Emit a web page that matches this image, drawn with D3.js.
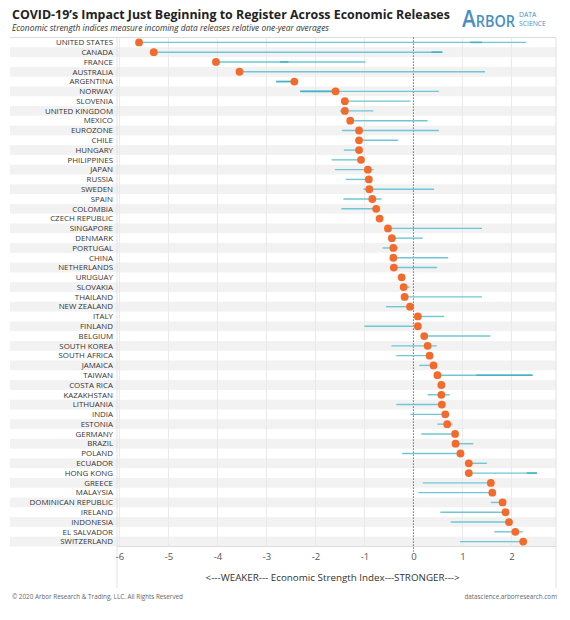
<!DOCTYPE html>
<html>
<head>
<meta charset="utf-8">
<script src="https://cdn.jsdelivr.net/npm/d3@7"></script>
<style>
  body { margin: 0; background: #fff; }
  svg { display: block; }
</style>
</head>
<body>
<svg id="chart" width="570" height="620"></svg>
<script>
const countries = ["UNITED STATES","CANADA","FRANCE","AUSTRALIA","ARGENTINA","NORWAY","SLOVENIA","UNITED KINGDOM","MEXICO","EUROZONE","CHILE","HUNGARY","PHILIPPINES","JAPAN","RUSSIA","SWEDEN","SPAIN","COLOMBIA","CZECH REPUBLIC","SINGAPORE","DENMARK","PORTUGAL","CHINA","NETHERLANDS","URUGUAY","SLOVAKIA","THAILAND","NEW ZEALAND","ITALY","FINLAND","BELGIUM","SOUTH KOREA","SOUTH AFRICA","JAMAICA","TAIWAN","COSTA RICA","KAZAKHSTAN","LITHUANIA","INDIA","ESTONIA","GERMANY","BRAZIL","POLAND","ECUADOR","HONG KONG","GREECE","MALAYSIA","DOMINICAN REPUBLIC","IRELAND","INDONESIA","EL SALVADOR","SWITZERLAND"];

// current economic strength index (dot)
const current = [-5.60,-5.30,-4.03,-3.55,-2.43,-1.59,-1.40,-1.40,-1.29,-1.11,-1.11,-1.11,-1.07,-0.93,-0.91,-0.90,-0.84,-0.76,-0.69,-0.52,-0.44,-0.41,-0.41,-0.40,-0.24,-0.20,-0.18,-0.07,0.09,0.09,0.22,0.29,0.33,0.41,0.49,0.57,0.57,0.58,0.65,0.69,0.85,0.86,0.96,1.13,1.13,1.58,1.61,1.82,1.88,1.95,2.08,2.24];

// range of recent readings (line low / high)
const rangeLow  = [-5.60,-5.30,-4.03,-3.55,-2.80,-2.31,-1.40,-1.50,-1.29,-1.46,-1.11,-1.42,-1.67,-1.60,-1.38,-1.02,-1.43,-1.47,-0.69,-0.52,-0.44,-0.63,-0.41,-0.40,-0.24,-0.20,-0.18,-0.56,0.09,-1.00,0.22,-0.45,-0.35,0.12,0.49,0.57,0.29,-0.35,-0.06,0.49,0.16,0.86,-0.23,1.13,1.13,0.19,0.10,1.58,0.55,0.76,1.65,0.95];
const rangeHigh = [2.30,0.59,-0.98,1.46,-2.43,0.52,-0.06,-0.82,0.29,0.52,-0.31,-1.11,-1.07,-0.81,-0.91,0.42,-0.65,-0.76,-0.69,1.40,0.19,-0.31,0.71,0.48,-0.24,-0.08,1.40,-0.07,0.63,0.09,1.57,0.48,0.33,0.41,2.43,0.57,0.74,0.58,0.65,0.80,0.85,1.22,0.96,1.50,2.52,1.58,1.61,1.82,1.88,1.95,2.23,2.24];

// darker overlapping segments (null where none is visible)
const darkLow  = [1.16,0.37,-2.72,null,-2.80,-2.31,null,null,null,null,null,null,null,null,null,null,null,null,null,null,null,null,null,null,null,null,null,null,null,null,null,null,null,null,1.28,null,null,null,null,null,null,null,null,null,2.31,null,null,null,null,null,null,null];
const darkHigh = [1.40,0.59,-2.55,null,-2.43,-1.59,null,null,null,null,null,null,null,null,null,null,null,null,null,null,null,null,null,null,null,null,null,null,null,null,null,null,null,null,2.43,null,null,null,null,null,null,null,null,null,2.52,null,null,null,null,null,null,null];

const tickValues = [-6,-5,-4,-3,-2,-1,0,1,2];

const rows = countries.map((c, i) => ({
  name: c, value: current[i], lo: rangeLow[i], hi: rangeHigh[i],
  dlo: darkLow[i], dhi: darkHigh[i], i
}));

const svg = d3.select("#chart");
const plotLeft = 117, plotRight = 556, plotTop = 37.5, plotBottom = 546.5;

const x = d3.scaleLinear().domain([-6.05, 2.91]).range([plotLeft, plotRight]);
const y = d3.scaleBand().domain(countries).range([plotTop, plotBottom]).padding(0);

// title
svg.append("text").attr("x", 12).attr("y", 19)
  .style("font-family", "'Open Sans', sans-serif").style("font-weight", 700)
  .style("font-size", "12.4px").attr("fill", "#222")
  .text("COVID-19\u2019s Impact Just Beginning to Register Across Economic Releases");
svg.append("text").attr("x", 12).attr("y", 31)
  .style("font-family", "'Open Sans', sans-serif").style("font-style", "italic")
  .style("font-size", "8.4px").attr("fill", "#333")
  .text("Economic strength indices measure incoming data releases relative one-year averages");

// logo
const logo = svg.append("g");
logo.append("text").attr("x", 462).attr("y", 27)
  .attr("textLength", 53).attr("lengthAdjust", "spacingAndGlyphs")
  .style("font-family", "'Open Sans', sans-serif").style("font-weight", 600)
  .attr("fill", "#4a8fc4")
  .call(t => {
    t.append("tspan").style("font-size", "23px").text("A");
    t.append("tspan").style("font-size", "16px").text("RBOR");
  });
logo.append("text").attr("x", 519).attr("y", 17)
  .style("font-family", "'Open Sans', sans-serif").style("font-size", "6.8px")
  .attr("fill", "#4a8fc4").text("DATA");
logo.append("text").attr("x", 519).attr("y", 26)
  .style("font-family", "'Open Sans', sans-serif").style("font-size", "6.8px")
  .attr("fill", "#4a8fc4").text("SCIENCE");

// row shading
svg.append("g").selectAll("rect").data(rows.filter(d => d.i % 2 === 1)).join("rect")
  .attr("x", 10).attr("width", plotRight - 10)
  .attr("y", d => y(d.name)).attr("height", y.bandwidth())
  .attr("fill", "#f2f2f2");

// frame
svg.append("line").attr("x1", 10).attr("x2", plotRight).attr("y1", plotTop).attr("y2", plotTop)
  .attr("stroke", "#dcdcdc").attr("stroke-width", 1);
svg.append("line").attr("x1", plotLeft).attr("x2", plotRight).attr("y1", plotBottom).attr("y2", plotBottom)
  .attr("stroke", "#dcdcdc").attr("stroke-width", 1);
svg.append("line").attr("x1", plotLeft).attr("x2", plotLeft).attr("y1", plotTop).attr("y2", 588)
  .attr("stroke", "#e2e2e2").attr("stroke-width", 1);
svg.append("line").attr("x1", plotRight).attr("x2", plotRight).attr("y1", plotTop).attr("y2", 588)
  .attr("stroke", "#e2e2e2").attr("stroke-width", 1);

// grid
svg.append("g").selectAll("line").data(tickValues.filter(v => v !== 0)).join("line")
  .attr("x1", d => x(d)).attr("x2", d => x(d))
  .attr("y1", plotTop).attr("y2", plotBottom)
  .attr("stroke", "#e9e9e9").attr("stroke-width", 1);

// zero line
svg.append("line").attr("x1", x(0)).attr("x2", x(0)).attr("y1", plotTop).attr("y2", plotBottom + 5)
  .attr("stroke", "#444").attr("stroke-width", 1).attr("stroke-dasharray", "1.2,1.8");

// range lines
const cy = d => y(d.name) + y.bandwidth() / 2;
svg.append("g").selectAll("line").data(rows.filter(d => d.hi - d.lo > 0.001)).join("line")
  .attr("x1", d => x(d.lo)).attr("x2", d => x(d.hi))
  .attr("y1", cy).attr("y2", cy)
  .attr("stroke", "#6fc7d5").attr("stroke-width", 1.4);
svg.append("g").selectAll("line").data(rows.filter(d => d.dlo !== null)).join("line")
  .attr("x1", d => x(d.dlo)).attr("x2", d => x(d.dhi))
  .attr("y1", cy).attr("y2", cy)
  .attr("stroke", "#45b3c5").attr("stroke-width", 1.6);

// dots
svg.append("g").selectAll("circle").data(rows).join("circle")
  .attr("cx", d => x(d.value)).attr("cy", cy).attr("r", 3.9)
  .attr("fill", "#f36b2c");

// country labels
svg.append("g").selectAll("text").data(rows).join("text")
  .attr("x", 113).attr("y", cy).attr("dy", "0.35em")
  .attr("text-anchor", "end")
  .style("font-family", "'Open Sans', sans-serif").style("font-size", "7.9px")
  .attr("fill", "#333").text(d => d.name);

// x axis
const axis = d3.axisBottom(x).tickValues(tickValues).tickSize(0).tickPadding(0)
  .tickFormat(d => String(d));
const ax = svg.append("g").attr("transform", `translate(0,${plotBottom + 7})`).call(axis);
ax.select(".domain").remove();
ax.selectAll("text").attr("dy", "0.71em")
  .style("font-family", "'Open Sans', sans-serif").style("font-size", "9.5px").attr("fill", "#555");

svg.append("text").attr("x", x(-1.65)).attr("y", 581).attr("text-anchor", "middle")
  .style("font-family", "'Open Sans', sans-serif").style("font-size", "9.8px").attr("fill", "#333")
  .text("<---WEAKER--- Economic Strength Index---STRONGER--->");

// footer
svg.append("text").attr("x", 12).attr("y", 599)
  .style("font-family", "'Open Sans', sans-serif").style("font-size", "6.3px").attr("fill", "#666")
  .text("\u00a9 2020 Arbor Research & Trading, LLC. All Rights Reserved");
svg.append("text").attr("x", 557).attr("y", 599).attr("text-anchor", "end")
  .style("font-family", "'Open Sans', sans-serif").style("font-size", "6.3px").attr("fill", "#666")
  .text("datascience.arborresearch.com");
</script>
</body>
</html>
